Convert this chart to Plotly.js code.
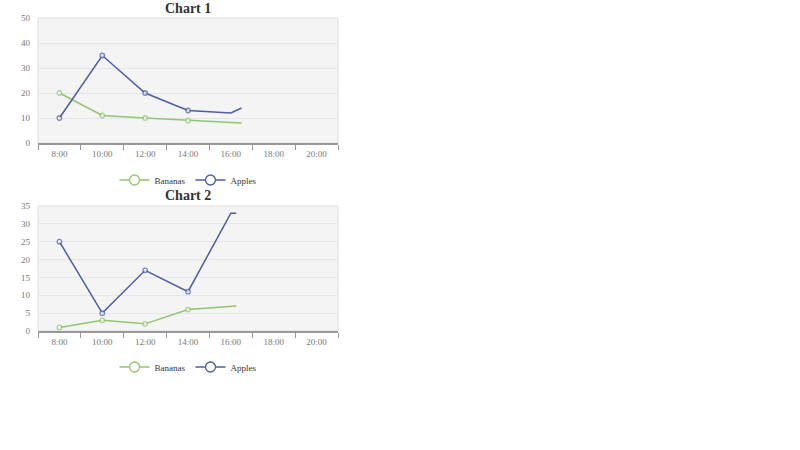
<!DOCTYPE html>
<html>
<head>
<meta charset="utf-8">
<script src="https://cdn.plot.ly/plotly-3.0.1.min.js"></script>
<style>html,body{margin:0;padding:0;background:#fff;}#chart{width:800px;height:450px;}</style>
</head>
<body>
<div id="chart"></div>
<script>
// Category labels (hours)
const categoryLabels = ['8:00', '10:00', '12:00', '14:00', '16:00', '18:00', '20:00'];
const categoryHours = [8, 10, 12, 14, 16, 18, 20];

// Chart 1
const chart1Hours = [8, 10, 12, 14, 16, 16.5];
const chart1Bananas = [20, 11, 10, 9, null, 8];
const chart1Apples = [10, 35, 20, 13, 12, 14];

// Chart 2
const chart2Hours = [8, 10, 12, 14, 16, 16.25];
const chart2Bananas = [1, 3, 2, 6, null, 7];
const chart2Apples = [25, 5, 17, 11, 33, 33];

const GREEN = '#91c56f';
const BLUE = '#4a5da6';
const FONT = 'Liberation Serif, Times New Roman, serif';

function markerSizes(xs) {
  return xs.map(h => (categoryHours.indexOf(h) >= 0 && h < 16) ? 4.5 : 0);
}

function dataTrace(xs, ys, color, xa, ya) {
  return {
    x: xs, y: ys, xaxis: xa, yaxis: ya,
    type: 'scatter', mode: 'lines+markers', connectgaps: true,
    line: {color: color, width: 1.5},
    marker: {symbol: 'circle', size: markerSizes(xs), color: '#ffffff', line: {color: color, width: 1.3}},
    showlegend: false, hoverinfo: 'x+y'
  };
}
function legendTrace(name, color, xa, ya, legend) {
  return {
    x: [null], y: [null], xaxis: xa, yaxis: ya, name: name, legend: legend,
    type: 'scatter', mode: 'lines+markers',
    line: {color: color, width: 1.5},
    marker: {symbol: 'circle', size: 10, color: '#ffffff', line: {color: color, width: 1.3}},
    showlegend: true
  };
}
function dummy(xa, ya) {
  return {x: [null], y: [null], xaxis: xa, yaxis: ya, type: 'scatter', mode: 'markers', showlegend: false, hoverinfo: 'skip'};
}

const traces = [
  dataTrace(chart1Hours, chart1Bananas, GREEN, 'x', 'y'),
  dataTrace(chart1Hours, chart1Apples, BLUE, 'x', 'y'),
  dataTrace(chart2Hours, chart2Bananas, GREEN, 'x2', 'y2'),
  dataTrace(chart2Hours, chart2Apples, BLUE, 'x2', 'y2'),
  dummy('x3', 'y'),
  dummy('x4', 'y2'),
  legendTrace('Bananas', GREEN, 'x', 'y', 'legend'),
  legendTrace('Apples', BLUE, 'x', 'y', 'legend'),
  legendTrace('Bananas', GREEN, 'x2', 'y2', 'legend2'),
  legendTrace('Apples', BLUE, 'x2', 'y2', 'legend2')
];

const W = 800, H = 450;
const px0 = 38, px1 = 338;
const boundaryVals = categoryHours.map(h => h - 1).concat([categoryHours[categoryHours.length - 1] + 1]);
const xRange = [boundaryVals[0], boundaryVals[boundaryVals.length - 1]];

// axis carrying the tick marks at band boundaries
function xTickAxis(anchor) {
  return {
    domain: [px0 / W, px1 / W], anchor: anchor,
    range: xRange,
    tickmode: 'array', tickvals: boundaryVals, showticklabels: false,
    ticks: 'outside', ticklen: 5, tickcolor: '#999', tickwidth: 1,
    showline: true, linecolor: '#999', linewidth: 1.5,
    showgrid: false, zeroline: false,
    fixedrange: true
  };
}
// overlaid axis carrying the category labels at band centres
function xLabelAxis(overlay, anchor) {
  return {
    overlaying: overlay, anchor: anchor, side: 'bottom',
    range: xRange,
    tickmode: 'array', tickvals: categoryHours, ticktext: categoryLabels,
    ticks: '', showline: false, showgrid: false, zeroline: false,
    ticklabelstandoff: 4,
    tickfont: {family: FONT, size: 9, color: '#777'},
    fixedrange: true
  };
}
function yAxis(anchor, top, bottom, max, dtick) {
  return {
    domain: [1 - bottom / H, 1 - top / H], anchor: anchor,
    range: [0, max], dtick: dtick, tick0: 0,
    showgrid: true, gridcolor: '#e4e6ee', gridwidth: 1,
    zeroline: false, showline: false, ticks: '',
    ticklabelstandoff: 7,
    tickfont: {family: FONT, size: 9, color: '#777'},
    fixedrange: true
  };
}

const layout = {
  width: W, height: H,
  margin: {l: 0, r: 0, t: 0, b: 0},
  paper_bgcolor: '#ffffff', plot_bgcolor: '#f4f4f4',
  font: {family: FONT},
  xaxis: xTickAxis('y'),
  yaxis: yAxis('x', 18, 143, 50, 10),
  xaxis2: xTickAxis('y2'),
  yaxis2: yAxis('x2', 206, 331, 35, 5),
  xaxis3: xLabelAxis('x', 'y'),
  xaxis4: xLabelAxis('x2', 'y2'),
  legend: {
    orientation: 'h', x: 188 / W, xanchor: 'center', y: 1 - 180 / H, yanchor: 'middle',
    font: {family: FONT, size: 9, color: '#333'}, bgcolor: 'rgba(0,0,0,0)', itemclick: false, itemdoubleclick: false
  },
  legend2: {
    orientation: 'h', x: 188 / W, xanchor: 'center', y: 1 - 367 / H, yanchor: 'middle',
    font: {family: FONT, size: 9, color: '#333'}, bgcolor: 'rgba(0,0,0,0)', itemclick: false, itemdoubleclick: false
  },
  annotations: [
    {text: '<b>Chart 1</b>', xref: 'paper', yref: 'paper', x: 188 / W, y: 1 - 8 / H, xanchor: 'center', yanchor: 'middle', showarrow: false, font: {family: FONT, size: 14, color: '#333'}},
    {text: '<b>Chart 2</b>', xref: 'paper', yref: 'paper', x: 188 / W, y: 1 - 195 / H, xanchor: 'center', yanchor: 'middle', showarrow: false, font: {family: FONT, size: 14, color: '#333'}}
  ],
  shapes: [
    {type: 'rect', xref: 'x domain', yref: 'y domain', x0: 0, x1: 1, y0: 0, y1: 1, line: {color: '#dddddd', width: 1}, layer: 'below'},
    {type: 'rect', xref: 'x2 domain', yref: 'y2 domain', x0: 0, x1: 1, y0: 0, y1: 1, line: {color: '#dddddd', width: 1}, layer: 'below'}
  ]
};

Plotly.newPlot('chart', traces, layout, {displayModeBar: false});
</script>
</body>
</html>
